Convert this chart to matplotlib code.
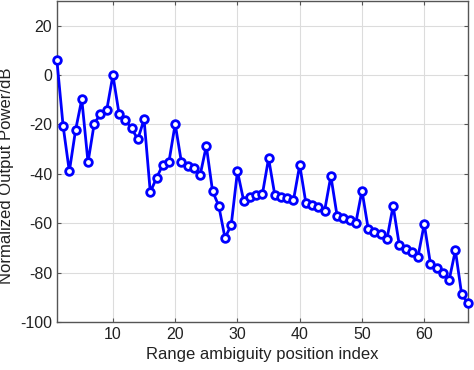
import numpy as np
import matplotlib
matplotlib.use('Agg')
from matplotlib import pyplot as plt

plt.rcParams['font.family'] = ['Liberation Sans', 'DejaVu Sans']
plt.rcParams['axes.unicode_minus'] = False

index = np.arange(1, 68)
power_db = [6.1, -20.6, -39, -22.3, -9.8, -35.3, -19.6, -15.8, -14.2, 0,
            -15.9, -18.2, -21.6, -26, -17.9, -47.4, -41.7, -36.4, -35.1, -19.8,
            -35.3, -36.7, -37.8, -40.6, -28.7, -47, -53, -66, -60.7, -39,
            -50.9, -49.3, -48.5, -48.3, -33.7, -48.6, -49.3, -49.7, -50.6, -36.4,
            -52, -52.8, -53.6, -54.9, -40.9, -57, -57.8, -58.6, -60, -46.8,
            -62.3, -63.5, -64.5, -66.5, -53, -69, -70.3, -71.8, -73.5, -60.3,
            -76.6, -78, -80, -83, -71, -88.7, -92.4]

fig = plt.figure(figsize=(4.74, 3.7), dpi=100)
ax = fig.add_axes([0.120, 0.130, 0.867, 0.867])

ax.plot(index, power_db, color='#0000ff', linewidth=2.0, marker='o',
        markersize=5.5, markerfacecolor='white', markeredgewidth=2.0,
        markeredgecolor='#0000ff', clip_on=False, zorder=3)

ax.set_xlim(1, 67)
ax.set_ylim(-100, 30)
ax.set_xticks([10, 20, 30, 40, 50, 60])
ax.set_yticks([-100, -80, -60, -40, -20, 0, 20])
ax.grid(True, color='#dcdcdc', linewidth=0.8)
ax.set_axisbelow(True)

for s in ax.spines.values():
    s.set_color('#555555')
    s.set_linewidth(1.0)
ax.tick_params(direction='in', top=True, right=True, length=3,
               color='#555555', labelsize=11.5, labelcolor='#222222')
ax.set_xlabel('Range ambiguity position index', fontsize=12, color='#222222')
fig.text(7 / 474, 1 - 176 / 370, 'Normalized Output Power/dB', fontsize=12,
         color='#222222', rotation=90, ha='center', va='center')

fig.savefig('out.png', dpi=100)
